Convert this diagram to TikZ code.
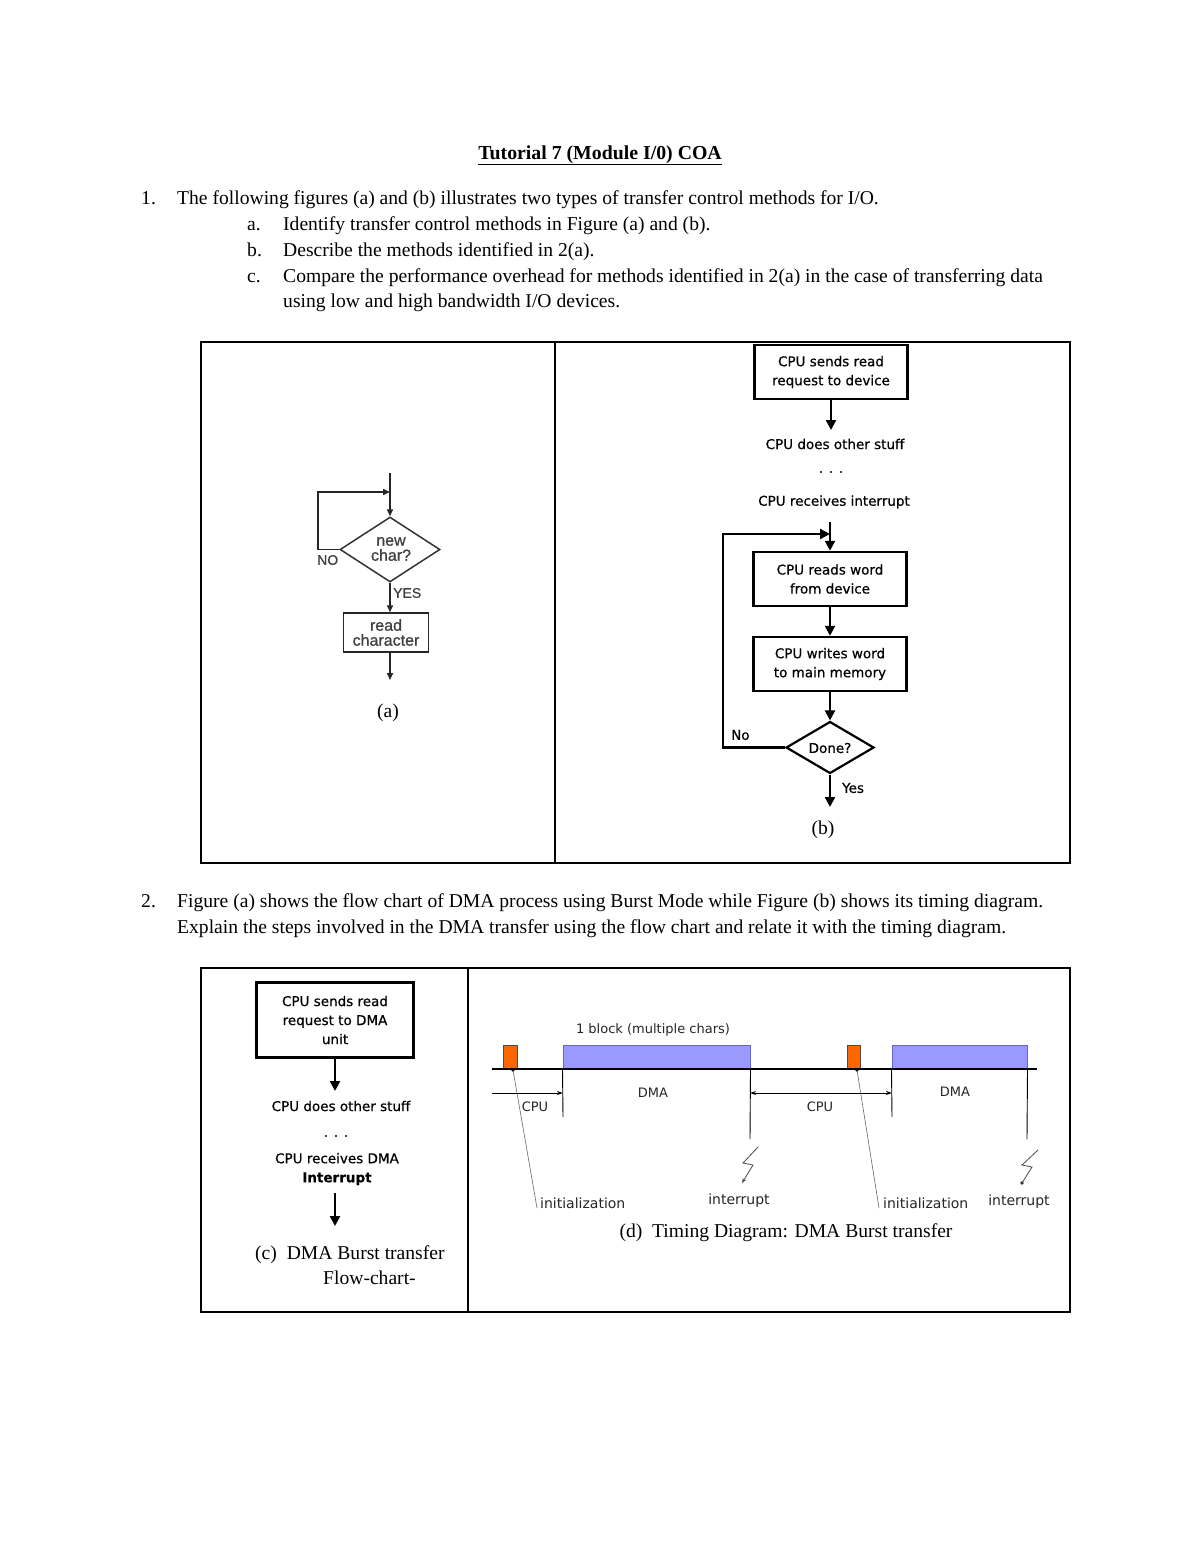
\documentclass[tikz,border=0pt]{standalone}
\usepackage{fontspec}
\setmainfont{Liberation Serif}
\newfontfamily\dvs[FakeBold=0.5]{DejaVu Sans}
\newfontfamily\dvsl{DejaVu Sans}
\newfontfamily\lsans[FakeBold=0.8]{Liberation Sans}
\usetikzlibrary{shapes.geometric,arrows.meta}
\definecolor{orng}{HTML}{FF6600}
\definecolor{blk}{HTML}{9999FF}
\definecolor{blkedge}{HTML}{6666CC}
\begin{document}
\begin{tikzpicture}[x=1pt,y=-1pt,
  body/.style={font=\fontsize{19.6}{23}\selectfont, inner sep=0pt, anchor=base west},
  fa/.style={font=\lsans\fontsize{16}{16}\selectfont, text=black!75, inner sep=0pt},
  fb/.style={font=\dvs\fontsize{13.5}{19}\selectfont, inner sep=0pt, align=center},
  ft/.style={font=\dvsl\fontsize{13}{14}\selectfont, inner sep=0pt, text=black!85},
  fl/.style={font=\dvsl\fontsize{14}{15}\selectfont, inner sep=0pt, text=black!85},
  boxb/.style={draw, line width=2.5pt, fb, minimum width=153pt, minimum height=54pt},
  boxa/.style={draw, line width=1.5pt, black!85, fa, align=center, minimum width=85pt, minimum height=39pt},
  arra/.style={-{Triangle[length=7pt,width=6pt]}, line width=1.5pt, black!85},
  arrb/.style={-{Triangle[length=10pt,width=10pt]}, line width=2.2pt},
  frame/.style={line width=1.3pt},
  tline/.style={line width=1.2pt},
  thin/.style={line width=0.6pt, black!60},
]
\useasboundingbox (0,0) rectangle (1200,1553);
\fill[white] (0,0) rectangle (1200,1553);

% ---------- header text ----------
\node[font=\bfseries\fontsize{19.8}{23}\selectfont, inner sep=0pt, anchor=base] (title) at (600,159) {\underline{Tutorial 7 (Module I/0) COA}};
\node[body] (q1n) at (141,204) {1.};
\node[body] (q1) at (177,204) {The following figures (a) and (b) illustrates two types of transfer control methods for I/O.};
\node[body] (q1an) at (247,230) {a.};
\node[body] (q1a) at (283,230) {Identify transfer control methods in Figure (a) and (b).};
\node[body] (q1bn) at (247,256) {b.};
\node[body] (q1b) at (283,256) {Describe the methods identified in 2(a).};
\node[body] (q1cn) at (247,282) {c.};
\node[body] (q1c) at (283,282) {Compare the performance overhead for methods identified in 2(a) in the case of transferring data};
\node[body] (q1c2) at (283,307) {using low and high bandwidth I/O devices.};

% ---------- table 1 ----------
\draw[frame] (201,342) rectangle (1070,863);
\draw[frame] (555,342) -- (555,863);

% ---------- flowchart (a) ----------
\coordinate (aTop) at (390,473);
\node[draw, line width=1.5pt, black!80, diamond, minimum width=100pt, minimum height=65pt, inner sep=0pt] (adia) at (390,549.5) {};
\node[fa, align=center] (adiat) at (391,549) {new\\[-1pt]char?};
\node[boxa] (abox) at (386,632.5) {read\\[-1pt]character};
\coordinate (aEnd) at (390,680);
\coordinate (aLoopA) at (318,549.5);
\coordinate (aLoopB) at (318,492);
\coordinate (aLoopC) at (390,492);
\draw[arra] (aTop) -- (adia.north);
\draw[arra] (adia.west) -- (aLoopA) -- (aLoopB) -- (aLoopC);
\draw[arra] (adia.south) -- (adia.south |- abox.north);
\draw[arra] (adia.south |- abox.south) -- (aEnd);
\node[fa, anchor=west, font=\lsans\fontsize{14}{14}\selectfont] (ano) at (317,560) {NO};
\node[fa, anchor=west, font=\lsans\fontsize{14}{14}\selectfont] (ayes) at (393,593) {YES};
\node[font=\fontsize{19.6}{23}\selectfont, inner sep=0pt] (acap) at (388,713) {(a)};

% ---------- flowchart (b) ----------
\node[boxb] (b1) at (831,372) {CPU sends read\\request to device};
\coordinate (b1end) at (831,430);
\draw[arrb] (b1.south -| b1end) -- (b1end);
\node[fb] (bother) at (835,444) {CPU does other stuff};
\node[fb] (bdots) at (831,472) {. . .};
\node[fb] (brecv) at (834,502) {CPU receives interrupt};
\coordinate (bstart) at (830,522);
\node[boxb] (b2) at (830,579) {CPU reads word\\from device};
\node[boxb] (b3) at (830,664) {CPU writes word\\to main memory};
\node[draw, line width=2.2pt, diamond, minimum width=88pt, minimum height=52pt, inner sep=0pt] (bdia) at (830,747.5) {};
\node[fb] (bdiat) at (830,748) {Done?};
\coordinate (bL1) at (723,747.5);
\coordinate (bL2) at (723,534);
\coordinate (bL3) at (830,534);
\coordinate (bend) at (830,807);
\draw[arrb] (bstart) -- (b2.north);
\draw[arrb] (b2.south) -- (b3.north);
\draw[arrb] (b3.south) -- (bdia.north);
\draw[arrb] (bdia.west) -- (bL1) -- (bL2) -- (bL3);
\draw[arrb] (bdia.south) -- (bend);
\node[fb, anchor=west] (bno) at (731,735) {No};
\node[fb, anchor=west] (byes) at (842,788) {Yes};
\node[font=\fontsize{19.6}{23}\selectfont, inner sep=0pt] (bcap) at (823,830) {(b)};

% ---------- question 2 ----------
\node[body] (q2n) at (141,907) {2.};
\node[body] (q2) at (177,907) {Figure (a) shows the flow chart of DMA process using Burst Mode while Figure (b) shows its timing diagram.};
\node[body] (q2b) at (177,933) {Explain the steps involved in the DMA transfer using the flow chart and relate it with the timing diagram.};

% ---------- table 2 ----------
\draw[frame] (201,968) rectangle (1070,1312);
\draw[frame] (468,968) -- (468,1312);

% ---------- flowchart (c) ----------
\node[draw, line width=2.5pt, fb, minimum width=157pt, minimum height=75pt] (c1) at (335,1020) {CPU sends read\\request to DMA\\unit};
\coordinate (c1end) at (335,1091);
\draw[arrb] (c1.south) -- (c1end);
\node[fb] (cother) at (341,1106) {CPU does other stuff};
\node[fb] (cdots) at (336,1136) {. . .};
\node[fb] (crecv) at (337,1169) {CPU receives DMA\\\textbf{Interrupt}};
\coordinate (cA) at (335,1193);
\coordinate (cB) at (335,1226);
\draw[arrb] (cA) -- (cB);
\node[font=\fontsize{19.6}{23}\selectfont, inner sep=0pt, anchor=base west] (ccap) at (255,1259) {(c)\enspace DMA Burst transfer};
\node[font=\fontsize{19.6}{23}\selectfont, inner sep=0pt, anchor=base west] (ccap2) at (323,1284) {Flow-chart-};

% ---------- timing diagram (d) ----------
\node[fill=blk, draw=blkedge, line width=1pt, minimum width=187pt, minimum height=24pt, inner sep=0pt] (blk1) at (656.5,1057) {};
\node[fill=blk, draw=blkedge, line width=1pt, minimum width=135pt, minimum height=24pt, inner sep=0pt] (blk2) at (959.5,1057) {};
\node[fill=orng, draw=black!70, line width=0.8pt, minimum width=14pt, minimum height=24pt, inner sep=0pt] (or1) at (510,1057) {};
\node[fill=orng, draw=black!70, line width=0.8pt, minimum width=13pt, minimum height=24pt, inner sep=0pt] (or2) at (853.5,1057) {};
\coordinate (tl0) at (492,1069);
\coordinate (tl1) at (1037,1069);
\draw[tline] (tl0) -- (tl1);
\node[ft] (blab) at (653,1030) {1 block (multiple chars)};
% verticals
\coordinate (v1) at (563,1117);
\coordinate (v2) at (750,1139);
\coordinate (v3) at (892,1117);
\coordinate (v4) at (1027,1139);
\draw[line width=0.9pt] (blk1.south west) -- (v1);
\draw[line width=0.9pt] (blk1.south east) -- (v2);
\draw[line width=0.9pt] (blk2.south west) -- (v3);
\draw[line width=0.9pt] (blk2.south east) -- (v4);
% CPU spans
\coordinate (ca0) at (492,1093);
\coordinate (ca1) at (563,1093);
\coordinate (cb0) at (750,1093);
\coordinate (cb1) at (892,1093);
\draw[line width=0.9pt, -{Stealth[length=6pt,width=4pt]}] (ca0) -- (ca1);
\draw[line width=0.9pt, {Stealth[length=6pt,width=4pt]}-{Stealth[length=6pt,width=4pt]}] (cb0) -- (cb1);
\node[ft] (dma1) at (653,1093) {DMA};
\node[ft] (dma2) at (955,1092) {DMA};
\node[ft] (cpu1) at (535,1107) {CPU};
\node[ft] (cpu2) at (820,1107) {CPU};
% initialization pointers
\coordinate (i1a) at (513,1070);
\coordinate (i1b) at (537,1208);
\coordinate (i2a) at (857,1070);
\coordinate (i2b) at (879,1208);
\fill (i1a) circle (1.8pt);
\fill (i2a) circle (1.8pt);
\draw[thin] (i1a) -- (i1b);
\draw[thin] (i2a) -- (i2b);
\node[fl, anchor=west] (ini1) at (540,1203) {initialization};
\node[fl, anchor=west] (ini2) at (883,1203) {initialization};
% interrupt lightnings
\coordinate (z1a) at (758,1147);
\coordinate (z1b) at (743,1163);
\coordinate (z1c) at (753,1165);
\coordinate (z1d) at (742,1183);
\coordinate (z2a) at (1038,1150);
\coordinate (z2b) at (1022,1165);
\coordinate (z2c) at (1032,1167);
\coordinate (z2d) at (1022,1183);
\draw[line width=0.8pt, black!70, -{Stealth[length=5pt,width=4pt]}] (z1a) -- (z1b) -- (z1c) -- (z1d);
\draw[line width=0.8pt, black!70] (z2a) -- (z2b) -- (z2c) -- (z2d);
\fill[black!80] (z2d) circle (1.8pt);
\node[fl] (int1) at (739,1201) {interrupt};
\node[fl] (int2) at (1019,1202) {interrupt};
\node[font=\fontsize{19.6}{23}\selectfont, inner sep=0pt] (dcap) at (786,1233) {(d)\enspace Timing Diagram: DMA Burst transfer};
\end{tikzpicture}
\end{document}
